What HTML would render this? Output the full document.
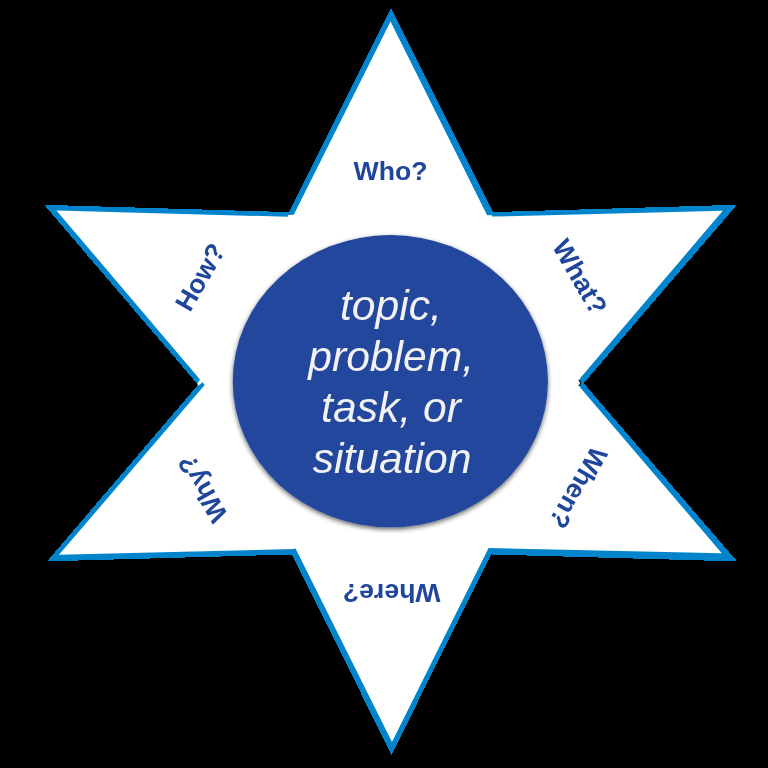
<!DOCTYPE html>
<html><head><meta charset="utf-8">
<style>
html,body{margin:0;padding:0;background:#000;width:768px;height:768px;overflow:hidden}
svg{display:block;will-change:transform}
text{font-family:"Liberation Sans",sans-serif}
</style></head>
<body>
<svg width="768" height="768" viewBox="0 0 768 768">
<defs>
<filter id="sh" x="-20%" y="-20%" width="140%" height="140%">
<feGaussianBlur in="SourceAlpha" stdDeviation="2.6"/>
<feOffset dx="0" dy="1.6" result="b"/>
<feComponentTransfer><feFuncA type="linear" slope="0.62"/></feComponentTransfer>
<feMerge><feMergeNode/><feMergeNode in="SourceGraphic"/></feMerge>
</filter>
</defs>
<rect width="768" height="768" fill="#000"/>
<polygon fill="#0284CD" shape-rendering="crispEdges" points="391.05,7.8 289,212.11 44.2,204.81 198,384.8 47,561.39 291.9,554.51 391.5,754.8 491.1,554.48 737.2,561.44 583.75,383.3 736.9,204.77 493,212.06"/>
<polygon fill="#FFFFFF" points="390.5,21.4 293.75,214.7 287.8,215.0 287.8,216.8 56.4,210.4 204.7,384.9 59,554.8 294.6,549.1 295.3,547.9 392,742.1 488.6,548.0 721.8,553.2 580.1,387.5 580.1,378.2 722.8,210.8 492.1,216.6 492.1,215.3 487.1,215.3"/>
<polygon fill="#FFFFFF" points="197.6,383.6 200.2,379.1 202.5,381.5 201.7,383.0 198.0,385.7"/>
<path d="M578.6,379.9 L579.6,380.4 Q581.4,382.8 579.6,385.3 L578.6,385.8" fill="none" stroke="#111" stroke-width="1.3"/>
<ellipse cx="390.35" cy="381.15" rx="157.55" ry="146.05" fill="#20469C" filter="url(#sh)"/>
<g fill="#F2F2F2" font-style="italic" font-size="42.67" text-anchor="middle">
<text x="390.9" y="320.2">topic,</text>
<text x="391.2" y="371.4">problem,</text>
<text x="391" y="422">task, or</text>
<text x="392.1" y="473.2">situation</text>
</g>
<g fill="#20469C" font-weight="bold" font-size="26.67" text-anchor="middle">
<text x="390.6" y="179.6">Who?</text>
<text transform="rotate(60 580.2 276.9)" x="580.2" y="286.4">What?</text>
<text transform="rotate(120 578.5 487.9)" x="578.5" y="497.4">When?</text>
<text transform="rotate(180 391.7 593.5)" x="391.7" y="603">Where?</text>
<text transform="rotate(240 202.4 488.7)" x="202.4" y="498.2">Why?</text>
<text transform="rotate(300 199.8 276.9)" x="199.8" y="286.4">How?</text>
</g>
</svg>
</body></html>
